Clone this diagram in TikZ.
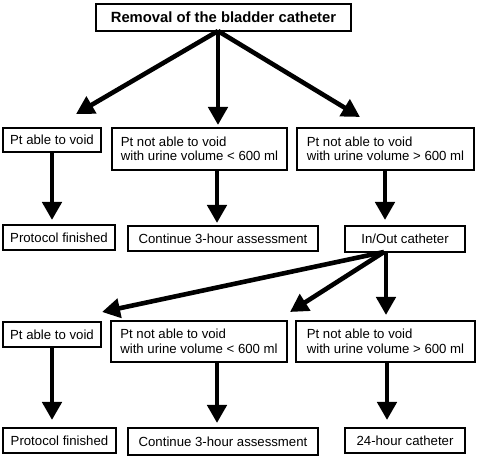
\documentclass[tikz,border=0pt]{standalone}
\usepackage{fontspec}
\setmainfont{Liberation Sans}
\usetikzlibrary{arrows.meta}
\begin{document}
\begin{tikzpicture}[x=1pt,y=-1pt,
  box/.style={draw=black,line width=1.3pt,inner sep=0pt,font=\fontsize{13.2}{14.5}\selectfont,align=left},
  bigarrow/.style={line width=4.6pt,-{Triangle[width=19pt,length=18pt]}}]
\useasboundingbox (0,0) rectangle (480,457);
% nodes
\node[box,minimum width=255pt,minimum height=27pt,font=\bfseries\fontsize{14.8}{16}\selectfont] (top) at (223.5,17.5) {Removal of the bladder catheter};
\node[box,minimum width=98pt,minimum height=24pt] (r2a) at (52,140) {Pt able to void};
\node[box,minimum width=175pt,minimum height=42pt] (r2b) at (199.5,149) {Pt not able to void\\with urine volume < 600 ml};
\node[box,minimum width=177pt,minimum height=42pt] (r2c) at (385.5,149) {Pt not able to void\\with urine volume > 600 ml};
\node[box,minimum width=112pt,minimum height=25pt] (r3a) at (59,237.5) {Protocol finished};
\node[box,minimum width=190pt,minimum height=25pt] (r3b) at (223,238.5) {Continue 3-hour assessment};
\node[box,minimum width=120pt,minimum height=26pt] (r3c) at (405,239) {In/Out catheter};
\node[box,minimum width=98pt,minimum height=25pt] (r4a) at (52,334.5) {Pt able to void};
\node[box,minimum width=176pt,minimum height=41pt] (r4b) at (199,341.5) {Pt not able to void\\with urine volume < 600 ml};
\node[box,minimum width=179pt,minimum height=41pt] (r4c) at (385.5,341.5) {Pt not able to void\\with urine volume > 600 ml};
\node[box,minimum width=113pt,minimum height=25pt] (r5a) at (59.5,440.5) {Protocol finished};
\node[box,minimum width=190pt,minimum height=27pt] (r5b) at (223,441.5) {Continue 3-hour assessment};
\node[box,minimum width=120pt,minimum height=25pt] (r5c) at (405,440.5) {24-hour catheter};
% coordinates
\coordinate (o1) at (218,31);
\coordinate (t1a) at (76,114);
\coordinate (t1b) at (218,125);
\coordinate (t1c) at (360,117);
\coordinate (s2a) at (52,152);
\coordinate (t2a) at (52,220);
\coordinate (s2b) at (217,170);
\coordinate (t2b) at (217,223);
\coordinate (s2c) at (385,170);
\coordinate (t2c) at (385,220);
\coordinate (o3) at (384,252);
\coordinate (t3a) at (102,312);
\coordinate (t3b) at (290,312);
\coordinate (s3c) at (386,252);
\coordinate (t3c) at (386,315);
\coordinate (s4a) at (52,347);
\coordinate (t4a) at (52,420);
\coordinate (s4b) at (217,362);
\coordinate (t4b) at (217,423);
\coordinate (s4c) at (387,362);
\coordinate (t4c) at (387,420);
% arrows
\draw[bigarrow] (o1) -- (t1a);
\draw[bigarrow] (o1) -- (t1b);
\draw[bigarrow] (o1) -- (t1c);
\draw[bigarrow] (s2a) -- (t2a);
\draw[bigarrow] (s2b) -- (t2b);
\draw[bigarrow] (s2c) -- (t2c);
\draw[bigarrow] (o3) -- (t3a);
\draw[bigarrow] (o3) -- (t3b);
\draw[bigarrow] (s3c) -- (t3c);
\draw[bigarrow] (s4a) -- (t4a);
\draw[bigarrow] (s4b) -- (t4b);
\draw[bigarrow] (s4c) -- (t4c);
\end{tikzpicture}
\end{document}
